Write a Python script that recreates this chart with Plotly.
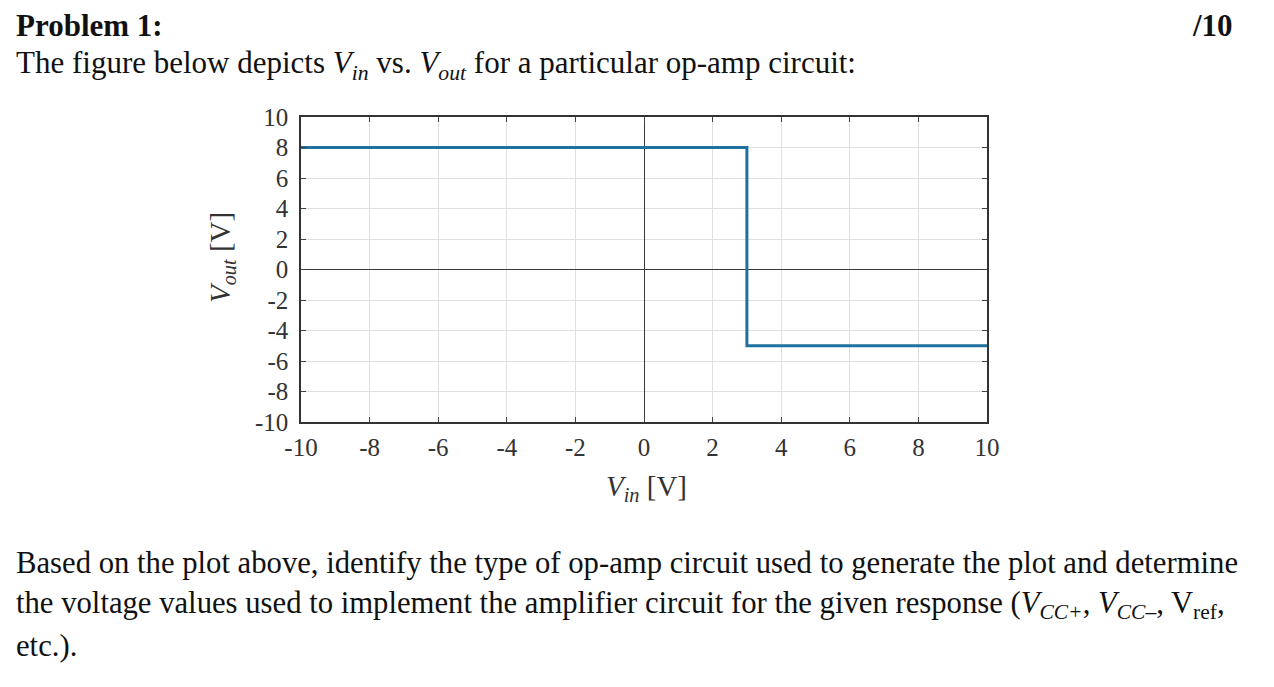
import plotly.graph_objects as go

vin = [-10, 3, 3, 10]
vout = [8, 8, -5, -5]
tick_vals = [-10, -8, -6, -4, -2, 0, 2, 4, 6, 8, 10]
tick_text = [str(v) for v in tick_vals]

OFF = 8  # default page body margin
W, H = 1274 - OFF, 687 - OFF
L, R, T, B = 301 - OFF, 987 - OFF, 117 - OFF, 422 - OFF
pw, ph = R - L, B - T

def px(x):
    return (x - OFF - L) / pw

def py(y):
    return (B - (y - OFF)) / ph

fig = go.Figure()
fig.add_trace(go.Scatter(x=vin, y=vout, mode="lines",
                         line=dict(color="#2070a0", width=3), showlegend=False))

axis_common = dict(
    range=[-10, 10], tickvals=tick_vals, ticktext=tick_text,
    ticks="inside", ticklen=5, tickcolor="#444", tickwidth=1,
    showline=True, linecolor="#333", linewidth=1.5, mirror="ticks",
    showgrid=True, gridcolor="#e0e0e0", gridwidth=1,
    zeroline=True, zerolinecolor="#3a3a3a", zerolinewidth=1.2,
    tickfont=dict(family="Liberation Serif", size=25, color="#333"),
)
fig.update_xaxes(**axis_common, ticklabelstandoff=2)
fig.update_yaxes(**axis_common, ticklabelstandoff=6)

serif = "Liberation Serif"
# header line: box anchored at the top edge of the figure
for txt, xx, anc in [("<b>Problem 1:</b>", px(14), "left"), ("<b>/10</b>", px(1235), "right")]:
    fig.add_annotation(x=xx, y=py(OFF), xref="paper", yref="paper", text=txt,
                       showarrow=False, xanchor=anc, yanchor="top", height=30,
                       font=dict(family=serif, size=31, color="#111"))

annos = [
    dict(x=px(14), y=py(65),
         text="The figure below depicts <i>V<sub>in</sub></i> vs. <i>V<sub>out</sub></i> for a particular op-amp circuit:",
         size=31, xanchor="left"),
    dict(x=px(14), y=py(563),
         text="Based on the plot above, identify the type of op-amp circuit used to generate the plot and determine",
         size=30.7, xanchor="left"),
    dict(x=px(14), y=py(605),
         text="the voltage values used to implement the amplifier circuit for the given response (<i>V<sub>CC+</sub></i>, <i>V<sub>CC–</sub></i>, V<sub>ref</sub>,",
         size=30.7, xanchor="left"),
    dict(x=px(14), y=py(646), text="etc.).", size=30.7, xanchor="left"),
    dict(x=px(646), y=py(488), text="<i>V<sub>in</sub></i> [V]", size=29, xanchor="center", color="#333"),
]
for a in annos:
    fig.add_annotation(x=a["x"], y=a["y"], xref="paper", yref="paper",
                       text=a["text"], showarrow=False, xanchor=a["xanchor"], yanchor="middle",
                       font=dict(family=serif, size=a["size"], color=a.get("color", "#111")))
fig.add_annotation(x=px(222), y=py(258), xref="paper", yref="paper",
                   text="<i>V<sub>out</sub></i> [V]", showarrow=False, textangle=-90,
                   xanchor="center", yanchor="middle",
                   font=dict(family=serif, size=29, color="#333"))

fig.update_layout(
    width=W, height=H,
    margin=dict(l=L, r=W - R, t=T, b=H - B, pad=0),
    paper_bgcolor="white", plot_bgcolor="white",
)
fig.write_html("out.html")
